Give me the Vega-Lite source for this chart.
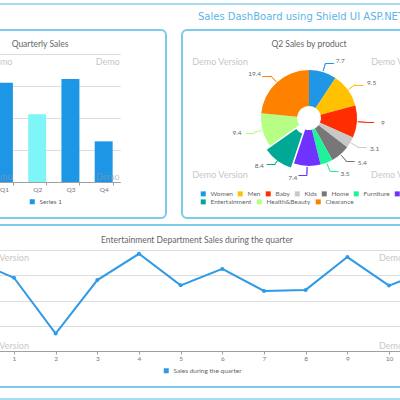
{
  "$schema": "https://vega.github.io/schema/vega-lite/v6.json",
  "padding": {"left": -87, "top": 3, "right": 0, "bottom": 0},
  "background": "white",
  "config": {
    "font": "Lato",
    "view": {"stroke": "#7ccbee", "strokeWidth": 2, "cornerRadius": 5},
    "axis": {"labelFont": "Lato", "labelFontSize": 6.5, "labelColor": "#777777", "domainColor": "#a0a0a0", "tickColor": "#a0a0a0", "gridColor": "#dddddd", "tickSize": 3, "labelPadding": 1},
    "legend": {"labelFont": "Lato", "labelFontSize": 6.5, "labelColor": "#666666", "symbolType": "square", "symbolSize": 25, "symbolStrokeWidth": 0, "labelOffset": 4, "columnPadding": 4},
    "title": {"font": "Lato", "fontSize": 8.5, "fontWeight": "normal", "color": "#666666"}
  },
  "spacing": 3,
  "resolve": {"scale": {"color": "independent", "fill": "independent", "stroke": "independent"}, "legend": {"color": "independent", "fill": "independent"}},
  "vconcat": [
    {
      "width": 700,
      "height": 0.01,
      "data": {"values": [{}]},
      "mark": {"type": "text", "fontSize": 0},
      "encoding": {},
      "view": {"stroke": "#a6d9f2", "strokeWidth": 2, "cornerRadius": 0},
      "title": {"text": "Sales DashBoard using Shield UI ASP.NET Chart", "orient": "bottom", "anchor": "start", "frame": "group", "dx": 284, "offset": 7.5, "font": "DejaVu Sans", "fontSize": 10, "color": "#5db3e6"}
    },
    {
      "spacing": 10,
      "resolve": {"scale": {"color": "independent", "fill": "independent", "stroke": "independent"}, "legend": {"color": "independent", "fill": "independent"}},
      "vconcat": [
        {
          "spacing": 5,
          "resolve": {"scale": {"color": "independent", "fill": "independent", "stroke": "independent"}, "legend": {"color": "independent", "fill": "independent"}},
          "vconcat": [
            {
              "spacing": 11,
              "resolve": {"scale": {"color": "independent", "fill": "independent", "stroke": "independent"}, "legend": {"color": "independent", "fill": "independent"}},
              "hconcat": [
                {
                  "width": 252,
                  "height": 188,
                  "title": {"text": "Quarterly Sales", "offset": -22, "baseline": "middle"},
                  "data": {"values": [
                    {"quarter": "Q1", "sales": 31.0, "series": "Series 1"},
                    {"quarter": "Q2", "sales": 21.2, "series": "Series 1"},
                    {"quarter": "Q3", "sales": 32.2, "series": "Series 1"},
                    {"quarter": "Q4", "sales": 12.7, "series": "Series 1"}
                  ]},
                  "encoding": {
                    "x": {"field": "quarter", "type": "nominal", "scale": {"range": [73.3, 206.3], "paddingInner": 0.46, "paddingOuter": 0.23}, "axis": {"offset": -36, "tickBand": "extent", "labelAngle": 0, "title": null}},
                    "y": {"field": "sales", "type": "quantitative", "scale": {"domain": [0, 40], "range": [152, 24], "nice": false}, "axis": {"values": [0, 10, 20, 30, 40], "labels": false, "ticks": false, "domain": false, "title": null}}
                  },
                  "layer": [
                    {
                      "mark": {"type": "bar"},
                      "encoding": {
                        "color": {"condition": {"test": "datum.quarter === 'Q2'", "value": "#80f5f7"}, "field": "series", "type": "nominal", "scale": {"range": ["#1e96e6"]}, "legend": {"title": null, "orient": "none", "legendX": 115, "legendY": 168.5}}
                      }
                    },
                    {
                      "transform": [{"filter": "datum.quarter === 'Q1'"}],
                      "mark": {"type": "text", "align": "right", "dx": 8.5, "fontSize": 9, "color": "#999999", "opacity": 0.55},
                      "encoding": {"y": {"datum": 37.5}, "text": {"value": "Demo"}}
                    },
                    {
                      "transform": [{"filter": "datum.quarter === 'Q4'"}],
                      "mark": {"type": "text", "align": "left", "dx": -8, "fontSize": 9, "color": "#999999", "opacity": 0.55},
                      "encoding": {"y": {"datum": 37.5}, "text": {"value": "Demo"}}
                    },
                    {
                      "transform": [{"filter": "datum.quarter === 'Q1'"}],
                      "mark": {"type": "text", "align": "right", "dx": 8.5, "fontSize": 9, "color": "#999999", "opacity": 0.55},
                      "encoding": {"y": {"datum": 1.6}, "text": {"value": "Demo"}}
                    },
                    {
                      "transform": [{"filter": "datum.quarter === 'Q4'"}],
                      "mark": {"type": "text", "align": "left", "dx": -8, "fontSize": 9, "color": "#999999", "opacity": 0.55},
                      "encoding": {"y": {"datum": 1.6}, "text": {"value": "Demo"}}
                    }
                  ]
                },
                {
                  "width": 254,
                  "height": 188,
                  "title": {"text": "Q2 Sales by product", "offset": -25, "baseline": "middle"},
                  "data": {"values": [
                    {"product": "Women", "sales": 7.7, "rank": 1},
                    {"product": "Men", "sales": 9.5, "rank": 2},
                    {"product": "Baby", "sales": 9, "rank": 3},
                    {"product": "Kids", "sales": 3.1, "rank": 4},
                    {"product": "Home", "sales": 5.4, "rank": 5},
                    {"product": "Furniture", "sales": 3.5, "rank": 6},
                    {"product": "Electronics", "sales": 7.4, "rank": 7},
                    {"product": "Entertainment", "sales": 8.4, "rank": 8},
                    {"product": "Health&Beauty", "sales": 9.4, "rank": 9},
                    {"product": "Clearance", "sales": 19.4, "rank": 10}
                  ]},
                  "layer": [
                    {
                      "data": {"values": [{}]},
                      "mark": {"type": "point", "opacity": 0},
                      "encoding": {
                        "x": {"datum": 0, "type": "quantitative", "axis": null},
                        "y": {"datum": 0, "type": "quantitative", "axis": null}
                      }
                    },
                    {
                      "mark": {"type": "arc", "innerRadius": 49, "outerRadius": 57, "padAngle": 3, "yOffset": -6, "fill": "transparent", "strokeWidth": 0.8},
                      "encoding": {
                        "theta": {"field": "sales", "type": "quantitative", "stack": true},
                        "order": {"field": "rank", "type": "quantitative"},
                        "stroke": {"field": "product", "type": "nominal", "legend": null,
                          "scale": {"domain": ["Clearance", "Health&Beauty", "Entertainment", "Electronics", "Furniture", "Home", "Kids", "Baby", "Men", "Women"], "range": ["#ff8100", "#b6ff84", "#00a896", "#6f32ff", "#1ef39c", "#777777", "#c8c8c8", "#ff2d00", "#ffc100", "#1f96e6"]}}
                      }
                    },
                    {
                      "mark": {"type": "text", "radius": 57, "dy": -6, "dx": 4, "font": "DejaVu Sans", "fontSize": 9, "fill": "transparent", "strokeWidth": 0.6},
                      "encoding": {
                        "theta": {"field": "sales", "type": "quantitative", "stack": true},
                        "order": {"field": "rank", "type": "quantitative"},
                        "stroke": {"field": "product", "type": "nominal", "legend": null},
                        "text": {"condition": {"test": "datum.rank > 6", "value": ""}, "value": "—"}
                      }
                    },
                    {
                      "mark": {"type": "text", "radius": 57, "dy": -6, "dx": -4, "font": "DejaVu Sans", "fontSize": 9, "fill": "transparent", "strokeWidth": 0.6},
                      "encoding": {
                        "theta": {"field": "sales", "type": "quantitative", "stack": true},
                        "order": {"field": "rank", "type": "quantitative"},
                        "stroke": {"field": "product", "type": "nominal", "legend": null},
                        "text": {"condition": {"test": "datum.rank <= 6", "value": ""}, "value": "—"}
                      }
                    },
                    {
                      "mark": {"type": "arc", "outerRadius": 48, "innerRadius": 12, "xOffset": -3, "yOffset": -2},
                      "encoding": {
                        "theta": {"field": "sales", "type": "quantitative", "stack": true},
                        "order": {"field": "rank", "type": "quantitative"},
                        "fill": {"condition": {"test": "datum.product !== 'Entertainment'", "value": "transparent"}, "field": "product", "type": "nominal",
                          "scale": {"domain": ["Entertainment", "Health&Beauty", "Clearance"], "range": ["#00a896", "#b6ff84", "#ff8100"]},
                          "legend": {"title": null, "values": ["Entertainment", "Health&Beauty", "Clearance"], "orient": "none", "direction": "horizontal", "legendX": 18, "legendY": 168.5}}
                      }
                    },
                    {
                      "mark": {"type": "arc", "outerRadius": 48, "innerRadius": 12, "yOffset": -6},
                      "encoding": {
                        "theta": {"field": "sales", "type": "quantitative", "stack": true},
                        "order": {"field": "rank", "type": "quantitative"},
                        "color": {"condition": {"test": "datum.product === 'Entertainment'", "value": "transparent"}, "field": "product", "type": "nominal",
                          "scale": {"domain": ["Women", "Men", "Baby", "Kids", "Home", "Furniture", "Electronics", "Entertainment", "Health&Beauty", "Clearance"], "range": ["#1f96e6", "#ffc100", "#ff2d00", "#c8c8c8", "#777777", "#1ef39c", "#6f32ff", "#00a896", "#b6ff84", "#ff8100"]},
                          "legend": {"title": null, "values": ["Women", "Men", "Baby", "Kids", "Home", "Furniture", "Electronics"], "orient": "none", "direction": "horizontal", "legendX": 18, "legendY": 160.5}}
                      }
                    },
                    {
                      "mark": {"type": "text", "radius": 60, "dy": -6, "dx": 14, "fontSize": 6.5, "color": "#666666"},
                      "encoding": {
                        "theta": {"field": "sales", "type": "quantitative", "stack": true},
                        "order": {"field": "rank", "type": "quantitative"},
                        "text": {"condition": {"test": "datum.rank > 6", "value": ""}, "field": "sales", "type": "quantitative"}
                      }
                    },
                    {
                      "mark": {"type": "text", "radius": 60, "dy": -6, "dx": -14, "fontSize": 6.5, "color": "#666666"},
                      "encoding": {
                        "theta": {"field": "sales", "type": "quantitative", "stack": true},
                        "order": {"field": "rank", "type": "quantitative"},
                        "text": {"condition": {"test": "datum.rank <= 6", "value": ""}, "field": "sales", "type": "quantitative"}
                      }
                    },
                    {
                      "data": {"values": [{"t": "Demo Version"}]},
                      "mark": {"type": "text", "theta": 5.274, "radius": 105, "dy": -6, "fontSize": 9, "color": "#999999", "opacity": 0.55},
                      "encoding": {"text": {"field": "t"}}
                    },
                    {
                      "data": {"values": [{"t": "Demo Version"}]},
                      "mark": {"type": "text", "theta": 1.014, "radius": 106, "dy": -6, "fontSize": 9, "color": "#999999", "opacity": 0.55},
                      "encoding": {"text": {"field": "t"}}
                    },
                    {
                      "data": {"values": [{"t": "Demo Version"}]},
                      "mark": {"type": "text", "theta": 4.142, "radius": 105.7, "dy": -6, "fontSize": 9, "color": "#999999", "opacity": 0.55},
                      "encoding": {"text": {"field": "t"}}
                    },
                    {
                      "data": {"values": [{"t": "Demo Version"}]},
                      "mark": {"type": "text", "theta": 2.136, "radius": 106.5, "dy": -6, "fontSize": 9, "color": "#999999", "opacity": 0.55},
                      "encoding": {"text": {"field": "t"}}
                    }
                  ]
                }
              ]
            },
            {
              "width": 566,
              "height": 162,
              "title": {"text": "Entertainment Department Sales during the quarter", "offset": -23, "baseline": "middle"},
              "data": {"values": [
                {"day": 0, "sales": 36.1, "series": "Sales during the quarter"},
                {"day": 1, "sales": 29.0, "series": "Sales during the quarter"},
                {"day": 2, "sales": 6.9, "series": "Sales during the quarter"},
                {"day": 3, "sales": 28.1, "series": "Sales during the quarter"},
                {"day": 4, "sales": 38.5, "series": "Sales during the quarter"},
                {"day": 5, "sales": 26.0, "series": "Sales during the quarter"},
                {"day": 6, "sales": 32.5, "series": "Sales during the quarter"},
                {"day": 7, "sales": 23.8, "series": "Sales during the quarter"},
                {"day": 8, "sales": 24.2, "series": "Sales during the quarter"},
                {"day": 9, "sales": 37.2, "series": "Sales during the quarter"},
                {"day": 10, "sales": 25.9, "series": "Sales during the quarter"},
                {"day": 11, "sales": 32.2, "series": "Sales during the quarter"}
              ]},
              "encoding": {
                "x": {"field": "day", "type": "quantitative", "scale": {"domain": [0, 11], "range": [58.3, 516.7], "nice": false, "zero": false}, "axis": {"offset": -36, "values": [1, 2, 3, 4, 5, 6, 7, 8, 9, 10], "grid": false, "title": null, "labelFlush": false}},
                "y": {"field": "sales", "type": "quantitative", "scale": {"domain": [0, 40], "range": [126, 25], "nice": false}, "axis": {"values": [0, 10, 20, 30, 40], "labels": false, "ticks": false, "domain": false, "title": null}}
              },
              "layer": [
                {"mark": {"type": "line", "color": "#2f9ae6", "strokeWidth": 2, "clip": true}},
                {
                  "mark": {"type": "point", "filled": true, "size": 16, "opacity": 1, "clip": true},
                  "encoding": {"color": {"field": "series", "type": "nominal", "scale": {"range": ["#2f9ae6"]}, "legend": {"title": null, "orient": "none", "legendX": 249, "legendY": 142.5}}}
                },
                {
                  "transform": [{"filter": "datum.day === 1"}],
                  "mark": {"type": "text", "align": "right", "dx": 15, "fontSize": 9, "color": "#999999", "opacity": 0.55},
                  "encoding": {"y": {"datum": 36.8}, "text": {"value": "Demo Version"}}
                },
                {
                  "transform": [{"filter": "datum.day === 1"}],
                  "mark": {"type": "text", "align": "right", "dx": 15, "fontSize": 9, "color": "#999999", "opacity": 0.55},
                  "encoding": {"y": {"datum": 2.1}, "text": {"value": "Demo Version"}}
                },
                {
                  "transform": [{"filter": "datum.day === 10"}],
                  "mark": {"type": "text", "align": "left", "dx": -10, "fontSize": 9, "color": "#999999", "opacity": 0.55},
                  "encoding": {"y": {"datum": 36.8}, "text": {"value": "Demo Version"}}
                },
                {
                  "transform": [{"filter": "datum.day === 10"}],
                  "mark": {"type": "text", "align": "left", "dx": -10, "fontSize": 9, "color": "#999999", "opacity": 0.55},
                  "encoding": {"y": {"datum": 2.1}, "text": {"value": "Demo Version"}}
                }
              ]
            }
          ]
        },
        {
          "width": 700,
          "height": 0.01,
          "data": {"values": [{}]},
          "mark": {"type": "text", "fontSize": 0},
          "encoding": {},
          "view": {"stroke": "#a8dcf3", "strokeWidth": 2, "cornerRadius": 0}
        }
      ]
    }
  ]
}
